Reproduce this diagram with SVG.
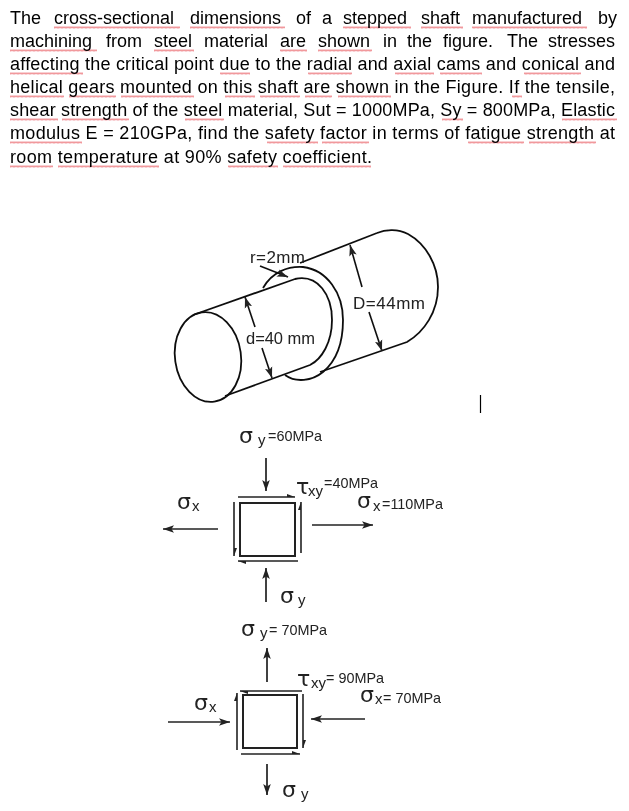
<svg xmlns="http://www.w3.org/2000/svg" width="629" height="811" viewBox="0 0 629 811">
<style>
.p{font:18px "Liberation Sans",Arial,sans-serif;fill:#000}
.l{font-family:"Liberation Sans",Arial,sans-serif;fill:#222}
.a{fill:none;stroke:#222;stroke-width:1.7;marker-end:url(#h)}
.s{fill:none;stroke:#222;stroke-width:1.6;marker-end:url(#hh)}
.d{fill:none;stroke:#111;stroke-width:1.6;marker-end:url(#h)}
.o{fill:none;stroke:#111;stroke-width:1.8}
.b{fill:none;stroke:#222;stroke-width:2}
.sg{font-family:"DejaVu Sans",sans-serif;font-size:22px}.sb{font-size:15px}.t{font-size:14.4px}
.w{fill:url(#sq)}
</style>
<defs>
<pattern id="sq" width="4" height="3" patternUnits="userSpaceOnUse"><path d="M0 2.500L1 .5L2 2.500L3 .5L4 2.500" fill="none" stroke="#e2333a" stroke-width=".5"/></pattern>
<marker id="h" markerWidth="13" markerHeight="9" refX="11" refY="4.500" orient="auto" markerUnits="userSpaceOnUse"><path d="M0 .7L11 4.500L0 8.300L2.500 4.500Z" fill="#222"/></marker>
<marker id="hh" markerWidth="10" markerHeight="6" refX="8" refY="4" orient="auto" markerUnits="userSpaceOnUse"><path d="M0 1L8 4L0 4Z" fill="#222"/></marker>
<filter id="bl" x="-5%" y="-5%" width="110%" height="110%"><feGaussianBlur stdDeviation="0.35"/></filter>
</defs>
<rect width="629" height="811" fill="#fff"/>
<g id="question" filter="url(#bl)">
<g id="squiggles">
<g transform="translate(0 26)"><rect class="w" x="54" width="126" height="3"/><rect class="w" x="190" width="95" height="3"/><rect class="w" x="343" width="68" height="3"/><rect class="w" x="421" width="42" height="3"/><rect class="w" x="472" width="115" height="3"/></g>
<g transform="translate(0 49)"><rect class="w" x="10" width="87" height="3"/><rect class="w" x="154" width="40" height="3"/><rect class="w" x="280" width="27" height="3"/><rect class="w" x="318" width="54" height="3"/></g>
<g transform="translate(0 72)"><rect class="w" x="10" width="73" height="3"/><rect class="w" x="220" width="30" height="3"/><rect class="w" x="308" width="44" height="3"/><rect class="w" x="395" width="39" height="3"/><rect class="w" x="440" width="42" height="3"/><rect class="w" x="524" width="57" height="3"/></g>
<g transform="translate(0 95)"><rect class="w" x="10" width="54" height="3"/><rect class="w" x="69" width="47" height="3"/><rect class="w" x="121" width="73" height="3"/><rect class="w" x="225" width="30" height="3"/><rect class="w" x="260" width="40" height="3"/><rect class="w" x="305" width="27" height="3"/><rect class="w" x="338" width="53" height="3"/><rect class="w" x="512" width="10" height="3"/></g>
<g transform="translate(0 118)"><rect class="w" x="10" width="48" height="3"/><rect class="w" x="62" width="67" height="3"/><rect class="w" x="185" width="39" height="3"/><rect class="w" x="442" width="21" height="3"/><rect class="w" x="562" width="55" height="3"/></g>
<g transform="translate(0 141)"><rect class="w" x="10" width="72" height="3"/><rect class="w" x="267" width="51" height="3"/><rect class="w" x="322" width="47" height="3"/><rect class="w" x="468" width="56" height="3"/><rect class="w" x="529" width="67" height="3"/></g>
<g transform="translate(0 165)"><rect class="w" x="10" width="43" height="3"/><rect class="w" x="58" width="101" height="3"/><rect class="w" x="228" width="50" height="3"/><rect class="w" x="283" width="88" height="3"/></g>
</g>
<text class="p" y="24"><tspan x="10">The</tspan> <tspan x="54">cross-sectional</tspan> <tspan x="190">dimensions</tspan> <tspan x="296">of</tspan> <tspan x="322">a</tspan> <tspan x="343">stepped</tspan> <tspan x="421">shaft</tspan> <tspan x="472">manufactured</tspan> <tspan x="598">by</tspan></text>
<text class="p" y="47"><tspan x="10">machining</tspan> <tspan x="106">from</tspan> <tspan x="154">steel</tspan> <tspan x="204">material</tspan> <tspan x="280">are</tspan> <tspan x="318">shown</tspan> <tspan x="383">in</tspan> <tspan x="407">the</tspan> <tspan x="443">figure.</tspan> <tspan x="507">The</tspan> <tspan x="548">stresses</tspan></text>
<text class="p" x="10" y="70" textLength="605" lengthAdjust="spacing">affecting the critical point due to the radial and axial cams and conical and</text>
<text class="p" x="10" y="93" textLength="605" lengthAdjust="spacing">helical gears mounted on this shaft are shown in the Figure. If the tensile,</text>
<text class="p" x="10" y="116" textLength="605" lengthAdjust="spacing">shear strength of the steel material, Sut = 1000MPa, Sy = 800MPa, Elastic</text>
<text class="p" x="10" y="139" textLength="605" lengthAdjust="spacing">modulus E = 210GPa, find the safety factor in terms of fatigue strength at</text>
<text class="p" x="10" y="163" textLength="362" lengthAdjust="spacing">room temperature at 90% safety coefficient.</text>
</g>
<g id="shaft" filter="url(#bl)">
<ellipse class="o" cx="208" cy="357" rx="33" ry="45" transform="rotate(-8 208 357)"/>
<path class="o" d="M193 315L295 279C318 274 332 295 332 320C332 342 322 359 310 365L225 396"/>
<path class="o" d="M263 288C272 272 288 266 303 267C327 270 343 293 343 320C343 345 335 362 323 372C312 381 296 383 285 375"/>
<path class="o" d="M300 263L377 233C386 229 398 229 408 234C426 244 438 265 438 287C438 312 424 332 407 342L320 372"/>
</g>
<g id="cursor"><path d="M480.500 395V413" stroke="#000" stroke-width="1.200"/></g>
<g id="connectors" filter="url(#bl)">
<path class="d" d="M362 287L350 245"/><path class="d" d="M369 312L382 351"/>
<path class="d" d="M255 327L245 297"/><path class="d" d="M262 348L272 378"/>
<path class="d" d="M260 266L288 277"/>
<path class="a" d="M266 458V491"/><path class="a" d="M266 602V568"/><path class="a" d="M312 525H373"/><path class="a" d="M218 529H163"/>
<path class="s" d="M238 497H295"/><path class="s" d="M301 553V502"/><path class="s" d="M298 561H238"/><path class="s" d="M234 502V556"/>
<path class="a" d="M267 682V648"/><path class="a" d="M267 764V795"/><path class="a" d="M168 722H230"/><path class="a" d="M365 719H311"/>
<path class="s" d="M302 691H240"/><path class="s" d="M237 750V693"/><path class="s" d="M303 694V748"/><path class="s" d="M241 754H300"/>
</g>
<g id="shaft-labels" class="l" filter="url(#bl)">
<text x="250" y="263" font-size="17" textLength="55">r=2mm</text>
<text x="353" y="309" font-size="17" textLength="72">D=44mm</text>
<text x="246" y="344" font-size="16.500" textLength="69">d=40 mm</text>
</g>
<g id="element-1" filter="url(#bl)">
<rect class="b" x="240" y="503" width="55" height="53"/>
<text class="l" x="239" y="443"><tspan class="sg">σ</tspan><tspan class="sb" x="258" y="445">y</tspan><tspan class="t" x="268" y="441">=60MPa</tspan></text>
<text class="l" x="296" y="494"><tspan class="sg">τ</tspan><tspan class="sb" x="308" y="496">xy</tspan><tspan class="t" x="324" y="488">=40MPa</tspan></text>
<text class="l" x="357" y="508"><tspan class="sg">σ</tspan><tspan class="sb" x="373" y="511">x</tspan><tspan class="t" x="382" y="509">=110MPa</tspan></text>
<text class="l" x="177" y="509"><tspan class="sg">σ</tspan><tspan class="sb" x="192" y="511">x</tspan></text>
<text class="l" x="280" y="603"><tspan class="sg">σ</tspan><tspan class="sb" x="298" y="605">y</tspan></text>
</g>
<g id="element-2" filter="url(#bl)">
<rect class="b" x="243" y="695" width="54" height="53"/>
<text class="l" x="241" y="636"><tspan class="sg">σ</tspan><tspan class="sb" x="260" y="638">y</tspan><tspan class="t" x="269" y="635">= 70MPa</tspan></text>
<text class="l" x="297" y="686"><tspan class="sg">τ</tspan><tspan class="sb" x="311" y="688">xy</tspan><tspan class="t" x="326" y="683">= 90MPa</tspan></text>
<text class="l" x="360" y="702"><tspan class="sg">σ</tspan><tspan class="sb" x="375" y="704">x</tspan><tspan class="t" x="383" y="703">= 70MPa</tspan></text>
<text class="l" x="194" y="710"><tspan class="sg">σ</tspan><tspan class="sb" x="209" y="712">x</tspan></text>
<text class="l" x="282" y="797"><tspan class="sg">σ</tspan><tspan class="sb" x="301" y="799">y</tspan></text>
</g>
</svg>
